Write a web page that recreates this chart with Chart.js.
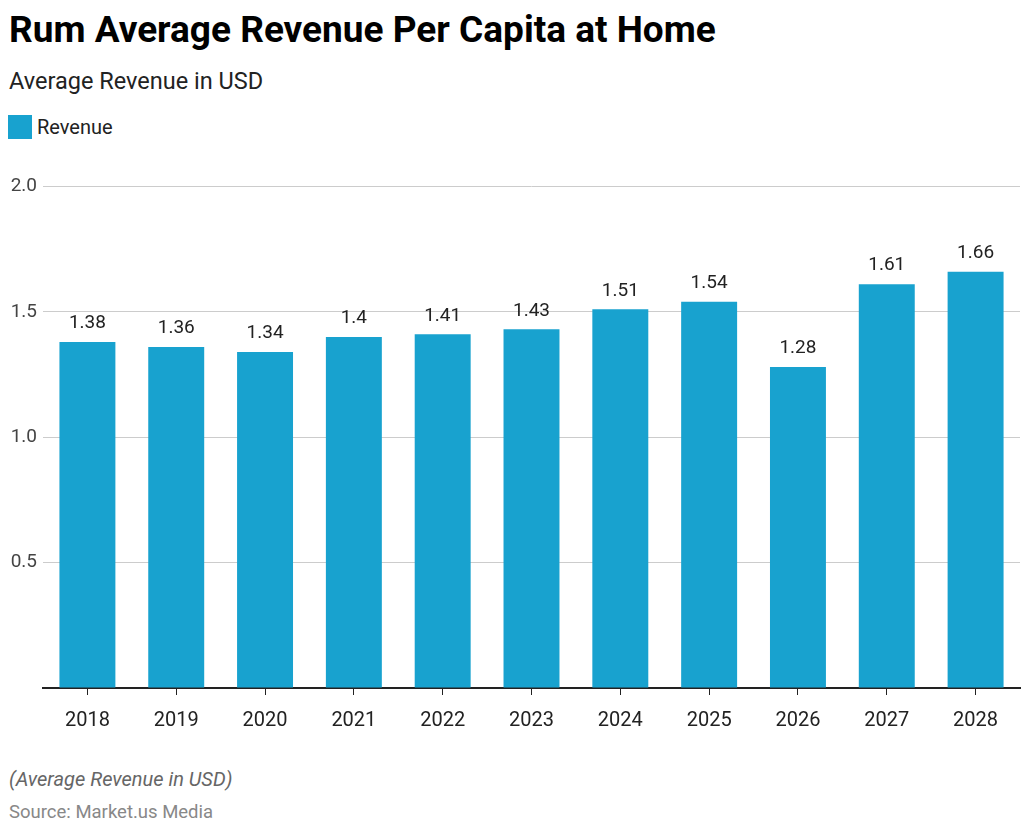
<!DOCTYPE html>
<html>
<head>
<meta charset="utf-8">
<script src="https://cdn.jsdelivr.net/npm/chart.js@4.4.1/dist/chart.umd.min.js"></script>
<style>
  body { margin: 0; background: #fff; font-family: Roboto, sans-serif; width: 1024px; height: 833px; position: relative; overflow: hidden; }
  .title { position: absolute; left: 9px; top: 8px; font-size: 37px; font-weight: 700; color: #000; }
  .subtitle { position: absolute; left: 9px; top: 67px; font-size: 23.5px; color: #222; }
  .legend { position: absolute; left: 8px; top: 115px; display: flex; align-items: center; font-size: 20px; color: #222; }
  .legend .box { width: 24px; height: 24px; background: #18a2cf; margin-right: 5px; }
  .chart-wrap { position: absolute; left: 0; top: 169px; width: 1024px; height: 578px; }
  .note { position: absolute; left: 9px; top: 767px; font-size: 20px; font-style: italic; color: #666; }
  .source { position: absolute; left: 9px; top: 801px; font-size: 18.5px; color: #888; }
</style>
</head>
<body>
<div class="title">Rum Average Revenue Per Capita at Home</div>
<div class="subtitle">Average Revenue in USD</div>
<div class="legend"><span class="box"></span>Revenue</div>
<div class="chart-wrap"><canvas id="rev-chart"></canvas></div>
<div class="note">(Average Revenue in USD)</div>
<div class="source">Source: Market.us Media</div>

<script>
// Chart data
const years = ['2018', '2019', '2020', '2021', '2022', '2023', '2024', '2025', '2026', '2027', '2028'];
const revenue = [1.38, 1.36, 1.34, 1.4, 1.41, 1.43, 1.51, 1.54, 1.28, 1.61, 1.66];
const yTicks = [0, 0.5, 1.0, 1.5, 2.0];

const barColor = '#18a2cf';

// value labels above each bar
const valueLabels = {
  id: 'valueLabels',
  afterDatasetsDraw(chart) {
    const ctx = chart.ctx;
    const meta = chart.getDatasetMeta(0);
    ctx.save();
    ctx.font = '19px Roboto, sans-serif';
    ctx.fillStyle = '#222';
    ctx.textAlign = 'center';
    ctx.textBaseline = 'bottom';
    meta.data.forEach((bar, i) => {
      ctx.fillText(String(revenue[i]), bar.x, bar.y - 9);
    });
    ctx.restore();
  }
};

const ctx = document.getElementById('rev-chart').getContext('2d');
new Chart(ctx, {
  type: 'bar',
  data: {
    labels: years,
    datasets: [{
      label: 'Revenue',
      data: revenue,
      backgroundColor: barColor,
      borderWidth: 0,
      barPercentage: 0.63,
      categoryPercentage: 1.0
    }]
  },
  options: {
    responsive: true,
    maintainAspectRatio: false,
    animation: false,
    layout: { padding: { left: 0, right: 4, top: 0, bottom: 0 } },
    plugins: {
      legend: { display: false },
      tooltip: { enabled: false }
    },
    scales: {
      x: {
        grid: { display: true, offset: false, drawOnChartArea: false, drawTicks: true, tickLength: 7, color: '#222' },
        border: { display: true, color: '#222', width: 2 },
        ticks: { color: '#222', padding: 14, font: { family: 'Roboto', size: 20 } }
      },
      y: {
        min: 0,
        max: 2.0,
        afterBuildTicks: axis => { axis.ticks = yTicks.map(v => ({ value: v })); },
        afterFit: axis => { axis.width = 43; },
        grid: { color: '#cccccc', drawTicks: false, lineWidth: 1 },
        border: { display: false },
        ticks: {
          color: '#444',
          padding: 6,
          font: { family: 'Roboto', size: 19 },
          callback: function(value) {
            return value === 0 ? '' : Number(value).toFixed(1);
          }
        }
      }
    }
  },
  plugins: [valueLabels]
});
</script>
</body>
</html>
